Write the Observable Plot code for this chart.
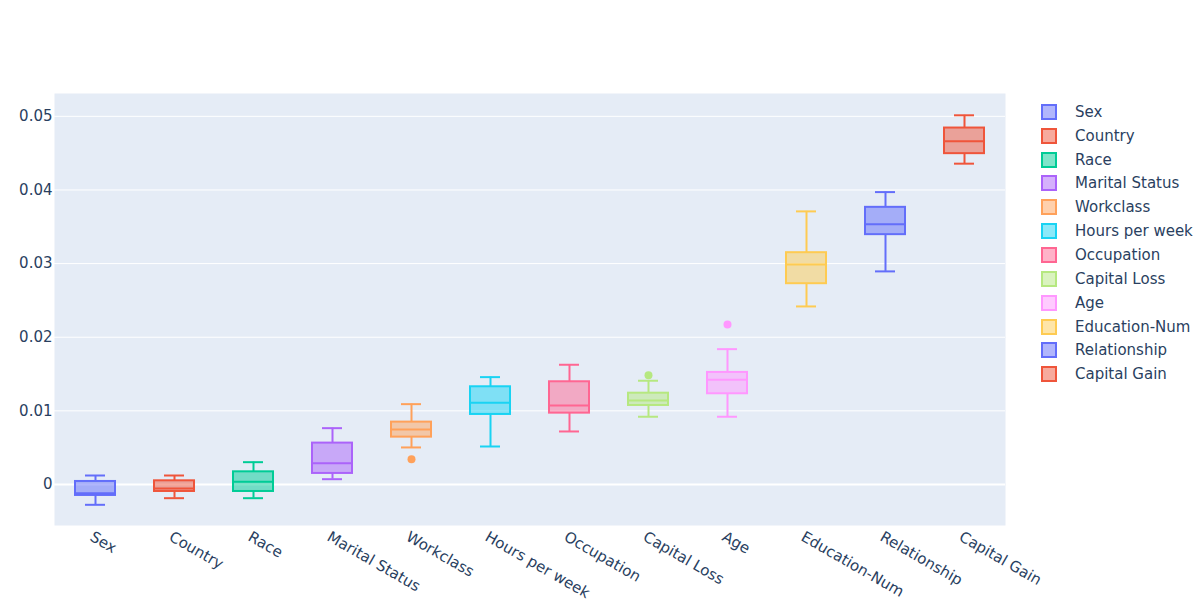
<!DOCTYPE html>
<html>
<head>
<meta charset="utf-8">
<script src="https://cdn.jsdelivr.net/npm/d3@7"></script>
<script src="https://cdn.jsdelivr.net/npm/@observablehq/plot@0.6"></script>
<style>
  body { margin: 0; background: #fff; font-family: "DejaVu Sans", Verdana, sans-serif; }
  #wrap { position: relative; width: 1200px; height: 616px; }
  #legend { position: absolute; left: 1041px; top: 100px; font-size: 15px; color: #2a3f5f; }
  .item { display: flex; align-items: center; height: 23.85px; }
  .sw { width: 12px; height: 12px; border: 2px solid; margin-right: 18px; box-sizing: content-box; }
</style>
</head>
<body>
<div id="wrap"><div id="legend"></div></div>
<script>
// Feature importance distributions, one box per feature
const features = ["Sex", "Country", "Race", "Marital Status", "Workclass", "Hours per week",
  "Occupation", "Capital Loss", "Age", "Education-Num", "Relationship", "Capital Gain"];
const colors = ["#636efa", "#EF553B", "#00cc96", "#ab63fa", "#FFA15A", "#19d3f3",
  "#FF6692", "#B6E880", "#FF97FF", "#FECB52", "#636efa", "#EF553B"];
const lowerFence = [-0.00276, -0.00186, -0.00186, 0.00072, 0.00503, 0.00516, 0.0072, 0.0092, 0.0092, 0.02418, 0.02894, 0.04357];
const q1 = [-0.00149, -0.00095, -0.00095, 0.0015, 0.00643, 0.00951, 0.00969, 0.01073, 0.01232, 0.02727, 0.03393, 0.04493];
const median = [-0.00118, -0.00054, 0.00036, 0.0029, 0.00747, 0.0111, 0.01073, 0.01141, 0.01422, 0.02989, 0.03533, 0.0466];
const q3 = [0.00041, 0.0005, 0.00172, 0.00562, 0.00847, 0.01327, 0.01395, 0.0124, 0.01522, 0.03148, 0.03764, 0.04841];
const upperFence = [0.00122, 0.00122, 0.00303, 0.00765, 0.01091, 0.01458, 0.01626, 0.01409, 0.01838, 0.03709, 0.03971, 0.05014];
const outlierFeature = ["Workclass", "Capital Loss", "Age"];
const outlierValue = [0.00344, 0.01485, 0.02174];
const yTicks = [0, 0.01, 0.02, 0.03, 0.04, 0.05];

const rows = features.map((f, i) => ({
  feature: f, color: colors[i], lo: lowerFence[i], q1: q1[i], med: median[i], q3: q3[i], hi: upperFence[i]
}));
const outliers = outlierFeature.map((f, i) => ({
  feature: f, value: outlierValue[i], color: colors[features.indexOf(f)]
}));

const chart = Plot.plot({
  width: 1200,
  height: 616,
  marginLeft: 54,
  marginRight: 195,
  marginTop: 93,
  marginBottom: 91,
  style: { fontFamily: "'DejaVu Sans', Verdana, sans-serif", fontSize: "15px", color: "#2a3f5f", background: "white", overflow: "visible" },
  color: { type: "identity" },
  x: { domain: features, paddingInner: 0.5, paddingOuter: 0.25 },
  y: { domain: [-0.00557, 0.0531] },
  marks: [
    Plot.frame({ fill: "#E5ECF6", stroke: null }),
    Plot.ruleY(yTicks.filter(d => d !== 0), { stroke: "white", strokeWidth: 1 }),
    Plot.ruleY([0], { stroke: "white", strokeWidth: 2 }),
    Plot.axisX({ label: null, tickSize: 0, tickRotate: 30, tickPadding: 10, dx: -4 }),
    Plot.axisY({ ticks: yTicks, tickFormat: d => d === 0 ? "0" : d.toFixed(2), label: null, tickSize: 0, tickPadding: 2 }),
    Plot.ruleX(rows, { x: "feature", y1: "lo", y2: "q1", stroke: "color", strokeWidth: 2 }),
    Plot.ruleX(rows, { x: "feature", y1: "q3", y2: "hi", stroke: "color", strokeWidth: 2 }),
    Plot.tickY(rows, { x: "feature", y: "lo", stroke: "color", strokeWidth: 2, insetLeft: 10, insetRight: 10 }),
    Plot.tickY(rows, { x: "feature", y: "hi", stroke: "color", strokeWidth: 2, insetLeft: 10, insetRight: 10 }),
    Plot.barY(rows, { x: "feature", y1: "q1", y2: "q3", fill: "color", fillOpacity: 0.5, stroke: "color", strokeWidth: 2 }),
    Plot.tickY(rows, { x: "feature", y: "med", stroke: "color", strokeWidth: 2 }),
    Plot.dot(outliers, { x: "feature", y: "value", fill: "color", r: 4, stroke: null })
  ]
});
document.getElementById("wrap").prepend(chart);

// Legend: one swatch per feature, in plotting order
const legend = d3.select("#legend");
features.forEach((f, i) => {
  const item = legend.append("div").attr("class", "item");
  item.append("div").attr("class", "sw")
    .style("border-color", colors[i])
    .style("background", d3.color(colors[i]).copy({ opacity: 0.5 }).formatRgb());
  item.append("span").text(f);
});
</script>
</body>
</html>
